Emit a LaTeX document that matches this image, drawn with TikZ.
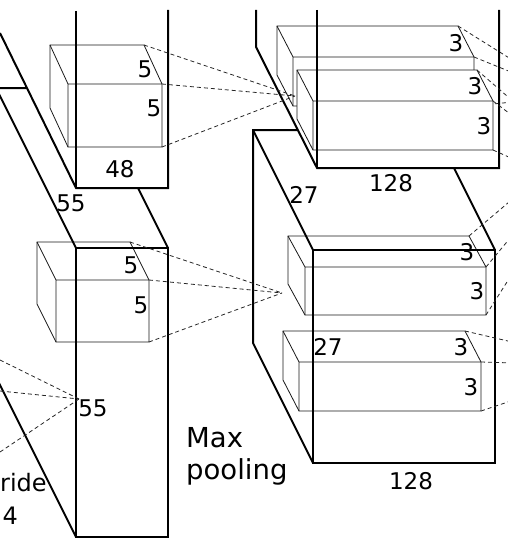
\documentclass[tikz,border=0pt]{standalone}
\usepackage{fontspec}
\setmainfont{DejaVu Sans}
\usetikzlibrary{calc}

% kernel cuboid: name, back x, back y, width, height, depth dx, depth dy
\newcommand{\kernbox}[7]{%
  \coordinate (#1 top) at ({#2+#4},#3);
  \coordinate (#1 front) at ({#2+#4+#6},{#3+#7});
  \coordinate (#1 low) at ({#2+#4+#6},{#3+#5+#7});
  \filldraw[kernel, fill=white] (#2,#3) -- ++(#4,0) -- ++(#6,#7) -- ++(0,#5)
    -- ++(-#4,0) -- ++(-#6,-#7) -- cycle;
  \draw[kernel] (#2,#3) -- ++(#6,#7) -- ++(#4,0) ++(-#4,0) -- ++(0,#5);
}

\begin{document}
\begin{tikzpicture}[x=1pt, y=-1pt,
  layer/.style={line width=2pt, black},
  kernel/.style={line width=0.8pt, black!90},
  conn/.style={line width=0.8pt, black!85, dash pattern=on 4pt off 3pt},
  dim/.style={font=\fontsize{23}{32}\selectfont, inner sep=0pt},
  note/.style={font=\fontsize{27.5}{32}\selectfont, inner sep=0pt, align=left}
]
\useasboundingbox (0,0) rectangle (508,543);
\clip (0,0) rectangle (508,543);

% ==================== CONVERGENCE POINTS ====================
\coordinate (in1) at (0,360);
\coordinate (in2) at (0,391);
\coordinate (in3) at (0,452);
\coordinate (p0) at (79,399);
\coordinate (p1a) at (295,96);
\coordinate (p1b) at (282,293);
\coordinate (p2a) at (570,96);
\coordinate (p2b) at (650,220);
\coordinate (p2c) at (615,112);
\coordinate (p2d) at (615,366);

% ==================== KERNELS ====================
\kernbox{k1a}{50}{45}{94}{63}{18}{39}
\kernbox{k1b}{37}{242}{93}{62}{19}{38}
\kernbox{k2a}{277}{26}{181}{49}{16}{31}
\draw[conn] (k2a top) -- (p2a);
\draw[conn] (k2a front) -- (p2a);
\draw[conn] (k2a low) -- (p2a);
\kernbox{k2b}{297}{70}{180}{49}{16}{31}
\kernbox{k2c}{288}{236}{181}{48}{17}{31}
\kernbox{k2d}{283}{331}{182}{49}{16}{31}

% ==================== LAYER 1 (55x55x48) ====================
% upper stream
\draw[layer] (0,33) -- (76,188) -- (168,188) -- (168,10);
\draw[layer] (76,11) -- (76,188);
% lower stream
\draw[layer] (76,248) rectangle (168,537);
\draw[layer] (26,88) -- (-4,88) -- (76,248);
\draw[layer] (168,248) -- (138,188);
\draw[layer] (-4,377) -- (76,537);

% ==================== LAYER 2 (27x27x128) ====================
% upper stream
\draw[layer] (256,10) -- (256,47) -- (317,168) -- (499,168) -- (499,10);
\draw[layer] (317,10) -- (317,168);
% lower stream
\draw[layer] (313,250) rectangle (495,463);
\draw[layer] (297,130) -- (253,130) -- (253,343) -- (313,463);
\draw[layer] (253,130) -- (313,250);
\draw[layer] (495,250) -- (454,168);

% ==================== LABELS ====================
\node[dim] (k1aTop) at (145,69) {5};
\node[dim] (k1aSide) at (154,108) {5};
\node[dim] (k1bTop) at (131,265) {5};
\node[dim] (k1bSide) at (141,305) {5};
\node[dim] (depth1) at (120,169) {48};
\node[dim] (size1a) at (71,203) {55};
\node[dim] (size1b) at (93,408) {55};
\node[dim] (size2a) at (304,195) {27};
\node[dim] (size2b) at (328,347) {27};
\node[dim] (depth2a) at (391,183) {128};
\node[dim] (depth2b) at (411,481) {128};
\node[dim] (k2aTop) at (456,43) {3};
\node[dim] (k2bTop) at (475,86) {3};
\node[dim] (k2bSide) at (484,126) {3};
\node[dim] (k2cTop) at (467,252) {3};
\node[dim] (k2cSide) at (477,291) {3};
\node[dim] (k2dTop) at (461,347) {3};
\node[dim] (k2dSide) at (471,387) {3};
\node[note, anchor=base west] (pool) at (186,479) {Max\\pooling};
\node[note, font=\fontsize{24}{32}\selectfont, anchor=base west] (stride) at (0,491) {ride};
\node[note, font=\fontsize{24}{32}\selectfont, anchor=base west] (strideb) at (2.5,524) {4};

% ==================== CONNECTIONS ====================
\draw[conn] (in1) -- (p0);
\draw[conn] (in2) -- (p0);
\draw[conn] (in3) -- (p0);
\draw[conn] (k1a top) -- (p1a);
\draw[conn] (k1a front) -- (p1a);
\draw[conn] (k1a low) -- (p1a);
\draw[conn] (k1b top) -- (p1b);
\draw[conn] (k1b front) -- (p1b);
\draw[conn] (k1b low) -- (p1b);
\draw[conn] (k2b top) -- (p2b);
\draw[conn] (k2b front) -- (p2b);
\draw[conn] (k2b low) -- (p2b);
\draw[conn] (k2c top) -- (p2c);
\draw[conn] (k2c front) -- (p2c);
\draw[conn] (k2c low) -- (p2c);
\draw[conn] (k2d top) -- (p2d);
\draw[conn] (k2d front) -- (p2d);
\draw[conn] (k2d low) -- (p2d);

\end{tikzpicture}
\end{document}
